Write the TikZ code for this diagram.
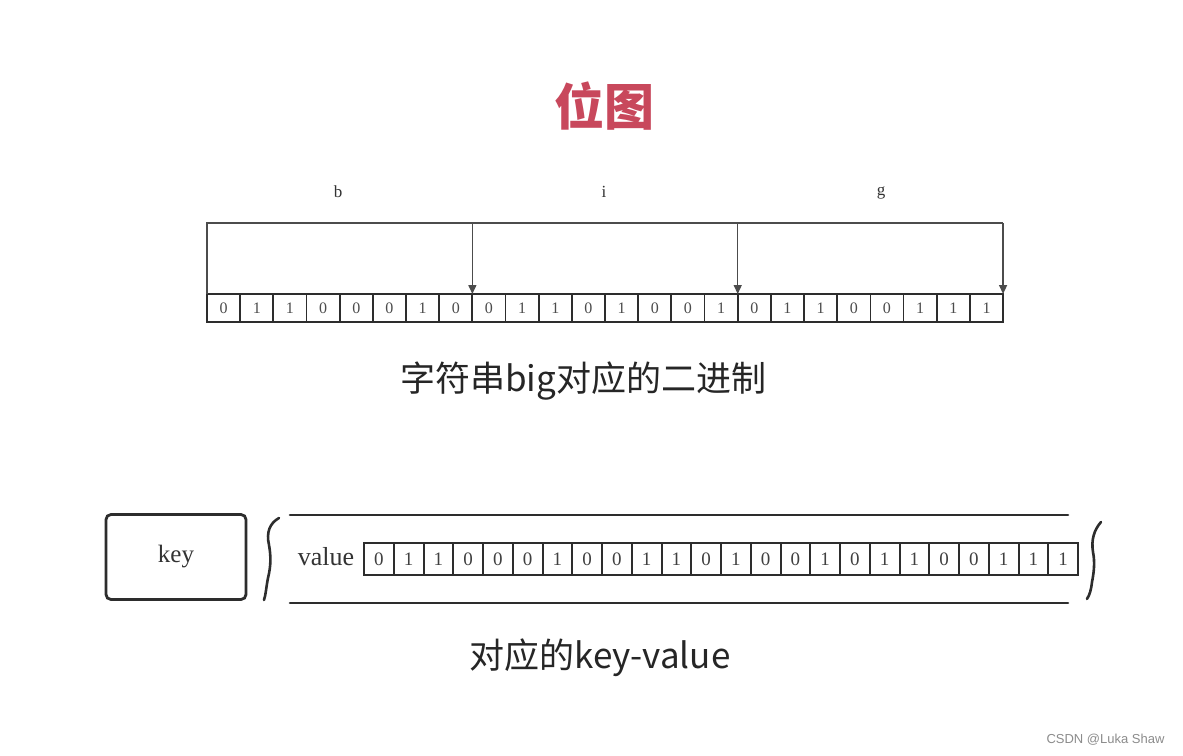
\documentclass[tikz,border=0pt]{standalone}
\usepackage{fontspec}
\newfontfamily\cjk{Noto Sans CJK SC}
\newfontfamily\wm{Liberation Sans}
\newfontfamily\srf{Liberation Serif}
\usetikzlibrary{arrows.meta}
\definecolor{titlered}{RGB}{200,72,92}
\definecolor{ink}{RGB}{45,45,45}
\begin{document}
\begin{tikzpicture}[x=1pt,y=-1pt,
  tcell/.style={draw=ink, line width=1.8pt, minimum width=33.17pt, minimum height=28pt, inner sep=0pt, outer sep=0pt, font=\srf\fontsize{16}{16}\selectfont, text=black!70},
  vcell/.style={draw=ink, line width=2pt, minimum width=29.75pt, minimum height=32pt, inner sep=0pt, outer sep=0pt, font=\srf\fontsize{19}{19}\selectfont, text=black!75},
  lbl/.style={font=\srf\fontsize{17}{17}\selectfont, text=black!80},
  conn/.style={draw=black!70, line width=1.5pt},
  arr/.style={conn, -{Triangle[length=9pt,width=8pt]}},
  caption/.style={font=\cjk\fontsize{35}{35}\selectfont, text=black!85},
  hand/.style={draw=ink, line width=2.6pt, line cap=round}]
\useasboundingbox[fill=white] (0,0) rectangle (1183,755);

% title
\node[font=\cjk\bfseries\fontsize{50}{50}\selectfont, text=titlered] (title) at (604,106) {位图};

% top bit row
\foreach \b [count=\i from 0] in {0,1,1,0,0,0,1,0,0,1,1,0,1,0,0,1,0,1,1,0,0,1,1,1}
  \node[tcell] (t\i) at ({207+33.17*(\i+0.5)},308) {\b};

\node[lbl] (lb) at (338,192) {b};
\node[lbl] (li) at (604,192) {i};
\node[lbl] (lg) at (881,193) {g};

\coordinate (topline) at (0,223);
\draw[conn] (t0.north west) -- (t0.north west |- topline) -- (t23.north east |- topline);
\draw[arr] (t7.north east |- topline) -- (t7.north east);
\draw[arr] (t15.north east |- topline) -- (t15.north east);
\draw[arr] (t23.north east |- topline) -- (t23.north east);

\node[caption] (cap1) at (583,381) {字符串big对应的二进制};

% bottom key-value
\node[draw=ink, line width=2.8pt, rounded corners=5pt, minimum width=140pt, minimum height=85pt, inner sep=0pt, font=\srf\fontsize{25}{25}\selectfont, text=black!80] (key) at (176,557) {key};

\node[font=\srf\fontsize{26}{26}\selectfont, text=black!80] (val) at (326,557) {value};
\foreach \b [count=\i from 0] in {0,1,1,0,0,0,1,0,0,1,1,0,1,0,0,1,0,1,1,0,0,1,1,1}
  \node[vcell] (v\i) at ({364+29.75*(\i+0.5)},559) {\b};

\coordinate (ltop) at (290,515);
\coordinate (rtop) at (1068,515);
\coordinate (lbot) at (290,603);
\coordinate (rbot) at (1068,603);
\draw[hand] (ltop) -- (rtop);
\draw[hand] (lbot) -- (rbot);

% hand-drawn braces
\draw[hand] (279,518) .. controls (270,523) and (266,532) .. (269,545)
  .. controls (271,556) and (271,566) .. (268,578)
  .. controls (266,588) and (266,594) .. (264,600);
\draw[hand] (1101,522) .. controls (1094,530) and (1091,540) .. (1093,552)
  .. controls (1095,562) and (1094,572) .. (1092,582)
  .. controls (1091,590) and (1090,594) .. (1087,599);

\node[caption] (cap2) at (600,658) {对应的key-value};

\node[font=\wm\fontsize{13}{13}\selectfont, text=black!45, anchor=east] (mark) at (1168,740) {CSDN @Luka Shaw};
\end{tikzpicture}
\end{document}
